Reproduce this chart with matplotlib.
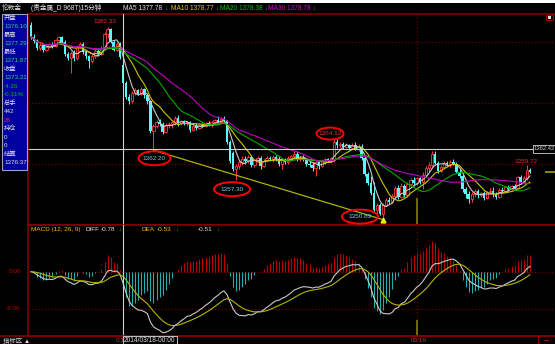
import numpy as np
import pandas as pd
import matplotlib
matplotlib.use("Agg")
import matplotlib.pyplot as plt
from matplotlib.patches import Rectangle, Ellipse
from matplotlib.lines import Line2D
from matplotlib.transforms import IdentityTransform

plt.rcParams['font.family'] = ['Liberation Sans', 'Noto Sans CJK SC', 'DejaVu Sans']

# 15-minute bars, London gold
opens = [1382.8, 1380.8, 1380.1, 1379.0, 1379.4, 1378.6, 1379.1, 1379.6, 1379.3, 1380.2,
         1380.7, 1379.9, 1378.0, 1377.4, 1378.1, 1377.3, 1379.2, 1379.7, 1378.3, 1377.6,
         1376.8, 1377.7, 1378.5, 1378.0, 1379.0, 1381.2, 1382.1, 1380.0, 1378.6, 1379.62,
         1376.10, 1373.2, 1371.0, 1370.2, 1371.6, 1372.0, 1371.5, 1372.2, 1371.2, 1370.3,
         1365.3, 1366.1, 1366.9, 1366.5, 1365.2, 1366.3, 1366.5, 1366.8, 1367.5, 1366.6,
         1367.0, 1366.6, 1366.8, 1365.5, 1366.2, 1365.9, 1366.3, 1366.2, 1366.6, 1366.3,
         1366.8, 1367.2, 1366.9, 1367.4, 1367.0, 1363.5, 1361.8, 1359.1, 1359.6, 1360.3,
         1360.8, 1360.5, 1361.1, 1359.8, 1360.6, 1360.9, 1359.6, 1360.5, 1360.9, 1360.7,
         1361.1, 1360.8, 1360.0, 1360.7, 1360.3, 1360.9, 1361.2, 1361.6, 1360.8, 1361.0,
         1360.7, 1360.0, 1359.8, 1359.3, 1360.2, 1359.6, 1360.4, 1360.7, 1360.5, 1360.6,
         1363.5, 1363.0, 1363.3, 1362.7, 1363.1, 1362.6, 1363.0, 1362.4, 1362.8, 1361.0,
         1358.3, 1356.9, 1355.2, 1352.4, 1353.2, 1351.8, 1353.3, 1354.1, 1353.8, 1354.7,
         1356.0, 1354.6, 1356.3, 1354.9, 1356.6, 1357.3, 1356.8, 1357.6, 1357.0, 1358.2,
         1359.3, 1359.8, 1361.6, 1360.1, 1358.8, 1359.5, 1360.1, 1359.9, 1360.3, 1360.0,
         1358.7, 1358.0, 1355.8, 1355.0, 1354.2, 1355.1, 1355.5, 1354.8, 1355.2, 1354.4,
         1355.3, 1355.6, 1355.0, 1354.6, 1355.7, 1355.5, 1356.1, 1355.9, 1356.3, 1356.0,
         1357.8, 1357.0, 1357.6, 1359.0]
highs = [1383.3, 1381.2, 1380.4, 1379.8, 1379.6, 1379.3, 1379.8, 1379.9, 1380.4, 1381.0,
         1381.0, 1380.2, 1378.3, 1378.5, 1378.6, 1379.5, 1380.0, 1380.0, 1378.7, 1377.8,
         1378.0, 1378.8, 1378.9, 1379.3, 1381.6, 1382.33, 1382.2, 1380.3, 1379.9, 1380.0,
         1377.29, 1373.6, 1371.4, 1371.9, 1372.4, 1372.3, 1372.5, 1372.4, 1371.5, 1370.5,
         1366.5, 1367.2, 1367.4, 1366.9, 1366.6, 1366.8, 1367.0, 1367.8, 1368.0, 1367.2,
         1367.2, 1367.0, 1367.0, 1366.4, 1366.6, 1366.5, 1366.7, 1366.8, 1367.0, 1367.0,
         1367.4, 1367.8, 1367.6, 1367.8, 1367.2, 1363.9, 1362.1, 1360.0, 1360.6, 1361.2,
         1361.3, 1361.4, 1361.5, 1360.8, 1361.2, 1361.3, 1360.8, 1361.2, 1361.3, 1361.4,
         1361.5, 1361.2, 1361.0, 1361.0, 1361.2, 1361.4, 1362.0, 1362.0, 1361.3, 1361.4,
         1361.0, 1360.5, 1360.2, 1360.4, 1360.6, 1360.6, 1360.9, 1361.0, 1361.1, 1364.12,
         1364.0, 1363.6, 1363.6, 1363.4, 1363.3, 1363.4, 1363.6, 1363.2, 1363.3, 1361.3,
         1358.6, 1358.0, 1357.0, 1353.6, 1353.5, 1353.6, 1354.4, 1354.6, 1355.0, 1356.4,
         1356.5, 1356.8, 1356.6, 1357.0, 1357.6, 1357.8, 1357.9, 1357.8, 1358.6, 1359.6,
         1360.2, 1362.0, 1362.0, 1360.4, 1359.8, 1360.4, 1360.5, 1360.6, 1360.7, 1360.2,
         1359.2, 1358.4, 1356.2, 1355.6, 1355.4, 1355.8, 1355.9, 1355.4, 1355.5, 1355.6,
         1356.0, 1356.2, 1355.4, 1356.0, 1356.2, 1356.4, 1356.5, 1356.5, 1356.6, 1358.0,
         1358.2, 1358.0, 1359.72, 1359.3]
lows = [1380.5, 1379.8, 1378.6, 1378.7, 1378.3, 1378.4, 1378.9, 1379.0, 1379.1, 1379.9,
        1379.6, 1377.7, 1377.0, 1374.9, 1376.9, 1377.0, 1378.9, 1378.0, 1377.2, 1375.7,
        1376.5, 1377.4, 1377.6, 1377.8, 1378.8, 1380.6, 1379.8, 1378.4, 1378.4, 1377.2,
        1371.87, 1370.6, 1369.8, 1370.0, 1371.2, 1371.2, 1371.2, 1370.8, 1369.8, 1365.0,
        1362.20, 1365.8, 1366.2, 1364.9, 1365.0, 1365.8, 1365.8, 1366.4, 1366.2, 1366.4,
        1366.3, 1366.2, 1365.2, 1365.3, 1365.6, 1365.7, 1366.0, 1366.0, 1366.1, 1366.0,
        1366.5, 1366.7, 1366.6, 1366.8, 1363.2, 1360.1, 1358.8, 1357.30, 1359.2, 1359.8,
        1360.0, 1360.1, 1359.4, 1359.5, 1360.2, 1359.2, 1359.4, 1360.3, 1360.4, 1360.2,
        1360.5, 1359.6, 1359.1, 1360.0, 1360.0, 1360.6, 1361.0, 1360.5, 1360.4, 1360.5,
        1359.6, 1359.5, 1358.8, 1358.0, 1359.2, 1359.4, 1360.0, 1360.2, 1360.3, 1360.3,
        1362.6, 1362.5, 1362.4, 1362.5, 1362.3, 1362.4, 1362.2, 1362.0, 1360.6, 1358.0,
        1356.5, 1354.8, 1352.0, 1351.8, 1351.6, 1350.83, 1353.0, 1353.4, 1353.6, 1354.4,
        1354.2, 1354.3, 1354.5, 1354.6, 1356.2, 1356.4, 1356.5, 1356.6, 1355.8, 1357.8,
        1358.6, 1359.5, 1359.8, 1358.5, 1358.6, 1359.2, 1359.6, 1359.5, 1359.8, 1358.4,
        1357.6, 1355.4, 1354.4, 1353.6, 1353.8, 1354.6, 1354.4, 1354.6, 1354.0, 1354.2,
        1355.0, 1354.6, 1354.2, 1354.4, 1355.2, 1355.3, 1355.6, 1355.7, 1355.8, 1355.8,
        1356.6, 1356.8, 1357.4, 1358.4]
closes = [1380.8, 1380.1, 1379.0, 1379.4, 1378.6, 1379.1, 1379.6, 1379.3, 1380.2, 1380.7,
          1379.9, 1378.0, 1377.4, 1378.1, 1377.3, 1379.2, 1379.7, 1378.3, 1377.6, 1376.8,
          1377.7, 1378.5, 1378.0, 1379.0, 1381.2, 1382.1, 1380.0, 1378.6, 1379.62, 1377.47,
          1373.21, 1371.0, 1370.2, 1371.6, 1372.0, 1371.5, 1372.2, 1371.2, 1370.3, 1365.3,
          1366.1, 1366.9, 1366.5, 1365.2, 1366.3, 1366.5, 1366.8, 1367.5, 1366.6, 1367.0,
          1366.6, 1366.8, 1365.5, 1366.2, 1365.9, 1366.3, 1366.2, 1366.6, 1366.3, 1366.8,
          1367.2, 1366.9, 1367.4, 1367.0, 1363.5, 1360.4, 1359.1, 1359.6, 1360.3, 1360.8,
          1360.5, 1361.1, 1359.8, 1360.6, 1360.9, 1359.6, 1360.5, 1360.9, 1360.7, 1361.1,
          1360.8, 1360.0, 1360.7, 1360.3, 1360.9, 1361.2, 1361.6, 1360.8, 1361.0, 1360.7,
          1360.0, 1359.8, 1359.3, 1360.2, 1359.6, 1360.4, 1360.7, 1360.5, 1360.9, 1363.5,
          1363.0, 1363.3, 1362.7, 1363.1, 1362.6, 1363.0, 1362.4, 1362.8, 1361.0, 1358.3,
          1356.9, 1355.2, 1352.4, 1353.2, 1351.8, 1353.3, 1354.1, 1353.8, 1354.7, 1356.0,
          1354.6, 1356.3, 1354.9, 1356.6, 1357.3, 1356.8, 1357.6, 1357.0, 1358.2, 1359.3,
          1359.8, 1361.6, 1360.1, 1358.8, 1359.5, 1360.1, 1359.9, 1360.3, 1360.0, 1358.7,
          1358.0, 1355.8, 1355.0, 1354.2, 1355.1, 1355.5, 1354.8, 1355.2, 1354.4, 1355.3,
          1355.6, 1355.0, 1354.6, 1355.7, 1355.5, 1356.1, 1355.9, 1356.3, 1356.0, 1357.8,
          1357.0, 1357.6, 1359.0, 1358.6]

cross_bar = 30          # 2014/03/18-00:00
day_break = 126         # 03/19
cross_price = 1362.42

ma_labels = [('MA5 1377.78', '#e0e0e0'), ('MA10 1378.77', '#d0d000'),
             ('MA20 1378.38', '#00c000'), ('MA30 1378.78', '#d000d0')]
macd_labels = [('DIFF', '-0.78', '#e0e0e0'), ('DEA', '-0.53', '#d0d000'), ('', '-0.51', '#e0e0e0')]

info_rows = [('开盘', '#e0e0e0'), ('1376.10', '#30d090'), ('最高', '#e0e0e0'), ('1377.29', '#30d090'),
             ('最低', '#e0e0e0'), ('1371.87', '#30d090'), ('收盘', '#e0e0e0'), ('1373.21', '#30d090'),
             ('-4.26', '#00c000'), ('-0.31%', '#00c000'), ('总手', '#e0e0e0'), ('442', '#e0e0e0'),
             ('28', '#e0206a'), ('持仓', '#e0e0e0'), ('0', '#e0e0e0'), ('0', '#e0e0e0'),
             ('结算', '#e0e0e0'), ('1376.37', '#e0e0e0')]

# marked extremes: value, kind
marks = [(1382.33, 'high'), (1362.20, 'low'), (1357.30, 'low'),
         (1364.12, 'high'), (1350.83, 'low'), (1359.72, 'high')]

o = np.array(opens); h = np.array(highs); l = np.array(lows); c = np.array(closes)
n = len(c)
x = np.arange(n)

cl = pd.Series(c)
ma5 = cl.rolling(5, min_periods=1).mean()
ma10 = cl.rolling(10, min_periods=1).mean()
ma20 = cl.rolling(20, min_periods=1).mean()
ma30 = cl.rolling(30, min_periods=1).mean()
diff = cl.ewm(span=12, adjust=False).mean() - cl.ewm(span=26, adjust=False).mean()
dea = diff.ewm(span=9, adjust=False).mean()
hist = 2 * (diff - dea)

W, H = 555, 344
def fx(px):
    return px / W
def fy(py):
    return 1 - py / H

RED = '#ff3c3c'
CYAN = '#54fcfc'
GRID = '#800000'
ARROW = '#00c000'

fig = plt.figure(figsize=(W / 100, H / 100), dpi=100, facecolor='black')
renderer = fig.canvas.get_renderer()
fig.patches.append(Rectangle((0, fy(3)), 1, 1 - fy(3), transform=fig.transFigure,
                             facecolor='white', edgecolor='none'))

def put(xp, yp, txt, col, fs, **kw):
    # place a text at pixel coords, return its right edge in pixels
    t = fig.text(fx(xp), fy(yp), txt, color=col, fontsize=fs, va='center', **kw)
    return xp + t.get_window_extent(renderer).width

ax = fig.add_axes([fx(28), fy(225), fx(555) - fx(28), fy(14) - fy(225)])
mx = fig.add_axes([fx(28), fy(336), fx(555) - fx(28), fy(225) - fy(336)])
for a in (ax, mx):
    a.set_facecolor('black')
    a.set_xticks([]); a.set_yticks([])
    for s in a.spines.values():
        s.set_color(GRID); s.set_linewidth(1.2)
    a.spines['right'].set_visible(False)
    a.set_xlim(-1, 171.2)
ax.set_ylim(1349.95, 1384.54)
mx.set_ylim(-3.448, 2.504)

# grid
ax.hlines([1380, 1370, 1360], -1, 171.2, colors=GRID, linestyles=(0, (1, 2)), lw=0.8)
mx.hlines([0, -2], -1, 171.2, colors=GRID, linestyles=(0, (1, 2)), lw=0.8)
for a in (ax, mx):
    a.axvline(day_break, color=GRID, ls=(0, (1, 2)), lw=0.8)
    a.axvline(cross_bar, color='#d0d0d0', lw=0.8, zorder=6)
ax.vlines(day_break, 1349.95, 1354.4, colors='#808000', lw=1.2)
mx.vlines(day_break, -3.448, -2.59, colors='#808000', lw=1.2)

# candles
up = c >= o
wick_col = np.where(up, RED, CYAN)
ax.vlines(x, l, h, colors=wick_col, lw=0.7, zorder=2)
bot = np.minimum(o, c)
hgt = np.maximum(np.abs(c - o), 0.06)
ax.bar(x[up], hgt[up], bottom=bot[up], width=0.8, facecolor='black', edgecolor=RED, lw=0.6, zorder=3)
ax.bar(x[~up], hgt[~up], bottom=bot[~up], width=0.8, color=CYAN, lw=0, zorder=3)

ax.plot(x, ma5, color='#c8c8c8', lw=0.8, zorder=4)
ax.plot(x, ma10, color='#c8c800', lw=0.8, zorder=4)
ax.plot(x, ma20, color='#00a800', lw=0.8, zorder=4)
ax.plot(x, ma30, color='#c000c0', lw=0.8, zorder=4)

# crosshair price line and last price
ax.hlines(cross_price, -1, n, colors='#d0d0d0', lw=0.8, zorder=5)
ax.hlines(c[-1], n + 4, 171.2, colors='#a0a000', lw=1.2)
put(534, 149, f'{cross_price:.2f}', '#d0d0d0', 4.2,
    bbox=dict(boxstyle='square,pad=0.2', fc='black', ec='#d0d0d0', lw=0.6))

# small icon at the top right
fig.patches.append(Rectangle((fx(546), fy(20)), fx(7), fy(15) - fy(20), transform=fig.transFigure,
                             facecolor='black', edgecolor='#a00000', lw=0.8))
fig.patches.append(Rectangle((fx(548), fy(18.5)), fx(3), fy(16.5) - fy(18.5), transform=fig.transFigure,
                             facecolor='#e0e0e0', edgecolor='none'))

# trend line through two lows
i_a = int(np.argmin(np.abs(l - 1362.20)))
i_b = int(np.argmin(l))
ax.plot([i_a, i_b], [l[i_a], l[i_b]], color='#b0b000', lw=0.9, zorder=4)
ax.plot(i_b, l[i_b], marker='^', color='#f0f000', ms=3.5, zorder=6)

# high/low labels with ellipses
offs = [(-3, 6, None), (1, -8, (32, 14)), (-4, -9, (36, 14)),
        (-4, 5, (27, 12)), (-23, 3, (36, 14)), (-1, 4, None)]
for (v, kind), (dx, dy, ell) in zip(marks, offs):
    arr = h if kind == 'high' else l
    i = int(np.argmin(np.abs(arr - v)))
    col = '#e03030' if kind == 'high' else '#70d0e8'
    ax.annotate(f'{v:.2f}', (i, v), xytext=(dx, dy), textcoords='offset pixels',
                ha='center', va='center', color=col, fontsize=4.6, zorder=7)
    if ell:
        px, py = ax.transData.transform((i, v))
        fig.patches.append(Ellipse((px + dx, py + dy), ell[0], ell[1], transform=IdentityTransform(),
                                   fill=False, edgecolor='#ff0000', lw=1.4))

# MACD
mx.vlines(x, 0, hist, colors=np.where(hist >= 0, '#c00000', '#20b0b0'), lw=0.8)
mx.plot(x, diff, color='#c8c8c8', lw=0.8)
mx.plot(x, dea, color='#b4b400', lw=0.8)
put(9, 271.7, '0.00', '#c00000', 4.6)
put(6, 309, '-2.00', '#c00000', 4.6)

# title row
fs = 4.8
put(2, 8.5, '伦敦金', '#e0e0e0', fs)
put(31, 8.5, '(贵金属_D 968T)15分钟', '#e0e0e0', fs)
for xp, (txt, col) in zip([123, 171, 220, 268], ma_labels):
    end = put(xp, 8.5, txt, col, fs)
    put(end + 2, 8.5, '↓', ARROW, fs)

# MACD title row
put(31, 229.5, 'MACD (12, 26, 9)', '#d0d000', 4.6)
for xp, (name, val, col) in zip([85, 141, 198], macd_labels):
    xv = xp + 16 if name else xp
    if name:
        put(xp, 229.5, name, col, 4.6)
    end = put(xv, 229.5, val, col, 4.6)
    put(end + 3, 229.5, '↓', ARROW, 4.6)

# info panel
fig.patches.append(Rectangle((fx(2), fy(170)), fx(25), fy(14) - fy(170), transform=fig.transFigure,
                             facecolor='#0000a0', edgecolor='#a0a0c0', lw=0.8))
for k, (txt, col) in enumerate(info_rows):
    put(4, 18.5 + 8.47 * k, txt, col, 4.5)

# bottom bar
fig.add_artist(Line2D([0, 1], [fy(336), fy(336)], color=GRID, lw=1.2))
put(3, 340.5, '指标区 ▲', '#e0e0e0', 4.6)
put(116, 340.5, '0:1', '#e03030', 4.6)
put(124, 340.5, '2014/03/18-00:00', '#e0e0e0', 4.8,
    bbox=dict(boxstyle='square,pad=0.2', fc='black', ec='#e0e0e0', lw=0.6))
put(411, 340.5, '03/19', '#e03030', 4.6)
fig.add_artist(Line2D([fx(538), fx(538)], [0, fy(336)], color=GRID, lw=1))
put(541, 340.5, '→', '#e03030', 6, weight='bold')

fig.savefig('out.png', dpi=100, facecolor='black')
